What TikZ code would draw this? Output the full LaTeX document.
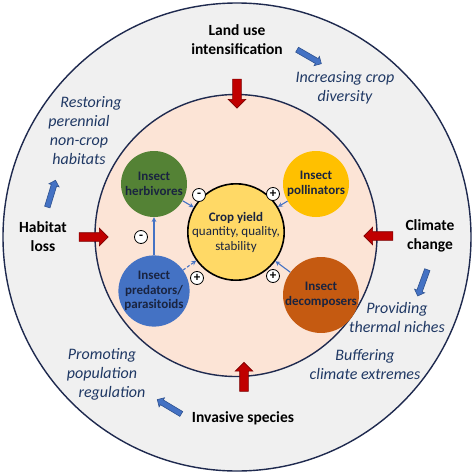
\documentclass[tikz,border=0pt]{standalone}
\usepackage{fontspec}
\setmainfont{Carlito}
\usetikzlibrary{shapes.arrows}
\definecolor{ringgrey}{HTML}{F0F0F0}
\definecolor{peach}{HTML}{FCE4D6}
\definecolor{ringline}{HTML}{1F2A4F}
\definecolor{textnavy}{HTML}{1A2440}
\definecolor{actionnavy}{HTML}{1F3864}
\definecolor{linkblue}{HTML}{4472C4}
\definecolor{linkdark}{HTML}{2F528F}
\definecolor{pressred}{HTML}{C00000}
\definecolor{darkred}{HTML}{7A0000}
\definecolor{herbgreen}{HTML}{548235}
\definecolor{pollyellow}{HTML}{FFC000}
\definecolor{decorange}{HTML}{C55A11}
\definecolor{cropyellow}{HTML}{FFD966}
\begin{document}
\begin{tikzpicture}[
    x=1pt, y=1pt,
    ring/.style={circle, draw=ringline, line width=1.4pt, inner sep=0pt},
    insect/.style={circle, minimum size=66pt, inner sep=0pt, align=center, text=textnavy,
      font=\fontsize{13}{14.5}\selectfont\bfseries},
    sign/.style={circle, draw=black, fill=white, line width=0.8pt, minimum size=13pt, inner sep=0pt,
      font=\fontsize{13}{13}\selectfont\bfseries},
    link/.style={-stealth, line width=1.1pt, draw=linkblue},
    driver/.style={align=center, font=\fontsize{15.5}{19}\selectfont\bfseries},
    action/.style={align=center, text=actionnavy, font=\fontsize{16}{19}\selectfont\itshape},
    pressure/.style={single arrow, draw=darkred, fill=pressred, line width=0.6pt,
      inner xsep=0pt, inner ysep=4pt, minimum height=29pt, single arrow head extend=4.5pt},
    remedy/.style={single arrow, draw=linkdark, fill=linkblue, line width=0.6pt,
      inner xsep=0pt, inner ysep=2.5pt, minimum height=28pt, single arrow head extend=2.5pt},
  ]
  \useasboundingbox[fill=white] (-237,-237) rectangle (237,237);
  % rings
  \node[ring, fill=ringgrey, minimum size=468pt] (outer) at (0,0) {};
  \node[ring, fill=peach, minimum size=282pt] (inner) at (-1,1.5) {};
  % crop yield and insect groups
  \node[circle, draw=black, line width=1.6pt, fill=cropyellow, minimum size=82pt, inner sep=0pt,
    align=center, text=textnavy, font=\fontsize{13}{14.5}\selectfont] (crop) at (-1,5)
    {\textbf{Crop yield}\\quantity, quality,\\stability};
  \node[insect, fill=herbgreen] (herb) at (-83,53) {Insect\\herbivores};
  \node[insect, fill=pollyellow] (poll) at (79,53) {Insect\\pollinators};
  \node[insect, fill=linkblue] (pred) at (-83,-54) {Insect\\predators/\\parasitoids};
  \node[insect, fill=decorange, minimum size=69pt] (decomp) at (84,-58) {Insect\\decomposers};
  \draw[link] (herb) -- (crop);
  \draw[link] (poll) -- (crop);
  \draw[link] (decomp) -- (crop);
  \draw[link, densely dashed] (pred) -- (crop);
  \draw[link] (pred) -- (herb);
  \node[sign] (s-herb) at (-38,42) {-};
  \node[sign] (s-poll) at (36,43) {+};
  \node[sign] (s-pred) at (-96,0) {-};
  \node[sign] (s-cross) at (-40,-41) {+};
  \node[sign] (s-decomp) at (36,-39) {+};
  % drivers and their pressure arrows
  \node[driver] (landuse) at (0,197.5) {Land use\\intensification};
  \node[driver] (habitat) at (-194,0.5) {Habitat\\loss};
  \node[driver] (climate) at (193,1) {Climate\\change};
  \node[driver] (invasive) at (6,-181) {Invasive species};
  \node[pressure, rotate=-90] (p-top) at (0,145.5) {};
  \node[pressure] (p-left) at (-145.5,0) {};
  \node[pressure, rotate=180] (p-right) at (143.5,1) {};
  \node[pressure, rotate=90] (p-bottom) at (7,-142) {};
  % management options
  \node[action] (diversity) at (108,149.5) {Increasing crop\\diversity};
  \node[action] (restoring) at (-158,106) {\hspace*{24pt}Restoring\\perennial\\non-crop\\habitats};
  \node[action] (niches) at (160,-81) {Providing\\thermal niches};
  \node[action] (buffering) at (128,-127.5) {Buffering\\climate extremes};
  \node[action] (regulation) at (-135,-137) {Promoting\\population\\\hspace*{20pt}regulation};
  \node[remedy, rotate=-30] (r-top) at (71,181) {};
  \node[remedy, rotate=73] (r-left) at (-186,42) {};
  \node[remedy, rotate=-110] (r-right) at (186,-44.5) {};
  \node[remedy, rotate=149] (r-bottom) at (-66.5,-170.5) {};
\end{tikzpicture}
\end{document}
